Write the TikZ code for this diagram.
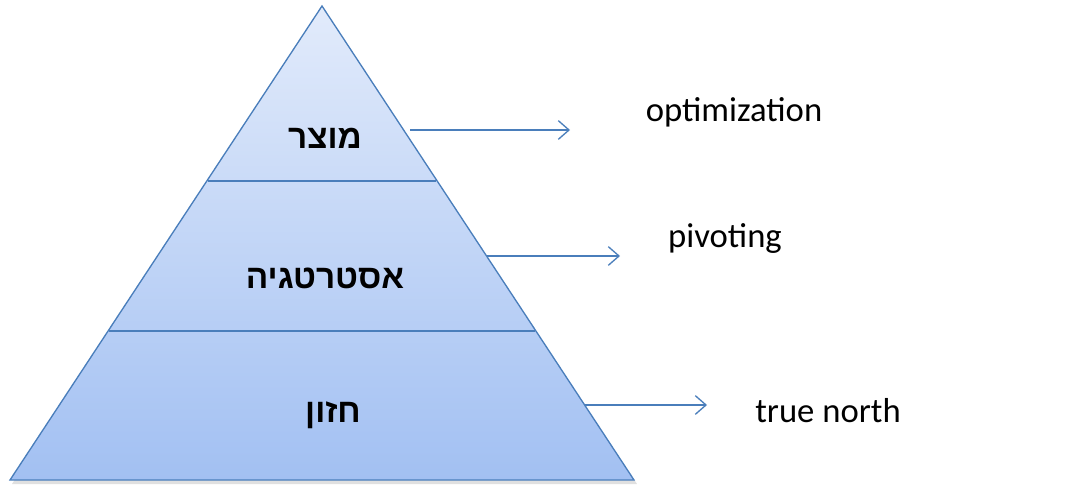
\documentclass[tikz,border=0pt]{standalone}
\usepackage{fontspec}
\TeXXeTstate=1
\setmainfont{Carlito}
\newfontfamily\heb[Script=Hebrew]{Liberation Sans}
\definecolor{edge}{HTML}{4A7EBB}
\definecolor{topc}{HTML}{E2EBFB}
\definecolor{botc}{HTML}{A2C0F2}
\tikzset{
  lvl/.style={font=\heb\bfseries\fontsize{25}{30}\selectfont},
  lab/.style={font=\fontsize{26}{30}\selectfont, anchor=base},
  arr/.style={draw=edge, line width=1pt, -{Straight Barb[length=8pt,width=14pt]}}
}
\usetikzlibrary{arrows.meta}
\begin{document}
\begin{tikzpicture}[x=0.75pt,y=-0.75pt]
\useasboundingbox (0,0) rectangle (1073,493);
\fill[black!12] (323,10) -- (637,484) -- (12,484) -- cycle;
\shade[top color=topc, bottom color=botc] (322,6) -- (634,480) -- (10,480) -- cycle;
\draw[edge, line width=1pt] (322,6) -- (634,480) -- (10,480) -- cycle;
\draw[edge, line width=1pt] (208,181) -- (436,181);
\draw[edge, line width=1pt] (109,331) -- (535,331);
\node[lvl] (a) at (325,138) {\beginR מוצר\endR};
\node[lvl] (b) at (325,278) {\beginR אסטרטגיה\endR};
\node[lvl] (c) at (333,415) {\beginR חזון\endR};
\coordinate (a1) at (410,130); \coordinate (a2) at (570,130);
\coordinate (b1) at (487,256); \coordinate (b2) at (620,256);
\coordinate (c1) at (585,405); \coordinate (c2) at (707,405);
\draw[arr] (a1) -- (a2);
\draw[arr] (b1) -- (b2);
\draw[arr] (c1) -- (c2);
\node[lab] (la) at (734,121) {optimization};
\node[lab] (lb) at (725,247) {pivoting};
\node[lab] (lc) at (828,422) {true north};
\end{tikzpicture}
\end{document}
